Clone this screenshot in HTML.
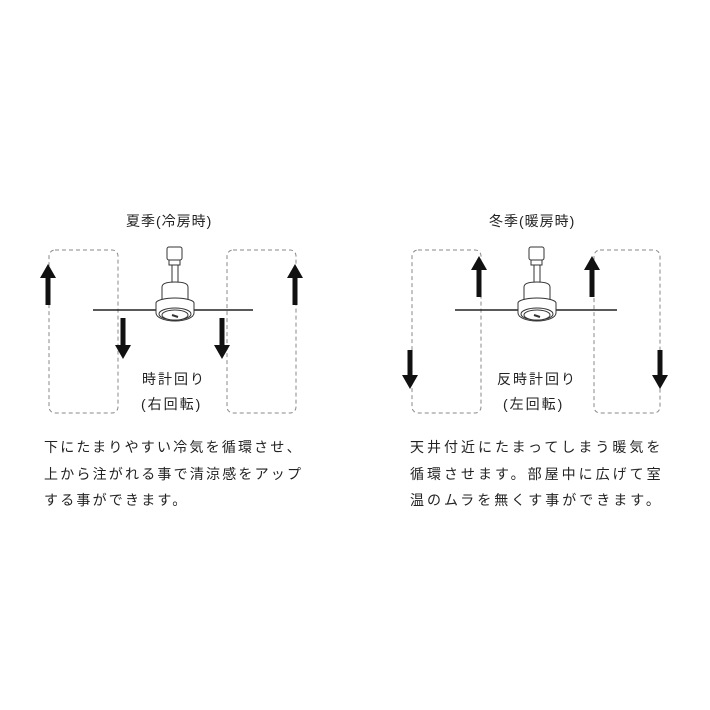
<!DOCTYPE html>
<html><head><meta charset="utf-8"><style>
html,body{margin:0;padding:0;background:#fff}
body{width:710px;height:710px;position:relative;overflow:hidden;font-family:"Liberation Sans","Noto Sans CJK JP",sans-serif;color:#222}
.t{position:absolute;font-size:14px;white-space:nowrap;letter-spacing:1px}
.p{position:absolute;font-size:14px;letter-spacing:2.2px;line-height:26.5px;white-space:nowrap}
</style></head><body>
<svg width="710" height="710" style="position:absolute;left:0;top:0">
<defs>
<g id="fan" stroke="#333" stroke-width="1" fill="#fff">
<rect x="-8" y="247" width="15" height="13" rx="2"/>
<rect x="-6" y="260" width="11" height="5"/>
<rect x="-3" y="265" width="6" height="18"/>
<path d="M-13 300 L-13 287 Q-13 282 0 282 Q13 282 13 287 L13 300 Z"/>
<ellipse cx="0" cy="303" rx="19" ry="5"/>
<path d="M-19 303 L-19 313 A19 8 0 0 0 19 313 L19 303"/>
<ellipse cx="0" cy="314" rx="16" ry="6"/>
<ellipse cx="0" cy="315" rx="13" ry="5"/>
<path d="M-3 315 L3 317" stroke-width="2"/>
</g>
</defs>
<g fill="none" stroke="#888" stroke-width="1" stroke-dasharray="4,3">
<rect x="49" y="250" width="69" height="163" rx="6"/>
<rect x="227" y="250" width="69" height="163" rx="6"/>
<rect x="412" y="250" width="69" height="163" rx="6"/>
<rect x="594" y="250" width="66" height="163" rx="6"/>
</g>
<g stroke="#222" stroke-width="1.5">
<line x1="93" y1="310" x2="156" y2="310"/><line x1="194" y1="310" x2="253" y2="310"/>
<line x1="455" y1="310" x2="518" y2="310"/><line x1="556" y1="310" x2="617" y2="310"/>
</g>
<use href="#fan" x="175"/>
<use href="#fan" x="537"/>
<g fill="#111">
<path d="M45.5 305h5v-27h5.5l-8-14-8 14h5.5z"/>
<path d="M292.5 305h5v-27h5.5l-8-14-8 14h5.5z"/>
<path d="M476.5 297h5v-27h5.5l-8-14-8 14h5.5z"/>
<path d="M589.5 297h5v-27h5.5l-8-14-8 14h5.5z"/>
<path d="M120.5 318h5v27h5.5l-8 14-8-14h5.5z"/>
<path d="M219.5 318h5v27h5.5l-8 14-8-14h5.5z"/>
<path d="M407.5 350h5v25h5.5l-8 14-8-14h5.5z"/>
<path d="M657.5 350h5v25h5.5l-8 14-8-14h5.5z"/>
</g>
</svg>
<div class="t" style="left:126px;top:211px">夏季(冷房時)</div>
<div class="t" style="left:489px;top:211px">冬季(暖房時)</div>
<div class="t" style="left:142px;top:369px;letter-spacing:2px">時計回り</div>
<div class="t" style="left:141px;top:394px;letter-spacing:2px">(右回転)</div>
<div class="t" style="left:497px;top:369px;letter-spacing:2px">反時計回り</div>
<div class="t" style="left:503px;top:394px;letter-spacing:2px">(左回転)</div>
<div class="p" style="left:44px;top:434px">下にたまりやすい冷気を循環させ、<br>上から注がれる事で清涼感をアップ<br>する事ができます。</div>
<div class="p" style="left:410px;top:434px;letter-spacing:3px">天井付近にたまってしまう暖気を<br>循環させます。部屋中に広げて室<br>温のムラを無くす事ができます。</div>
</body></html>
